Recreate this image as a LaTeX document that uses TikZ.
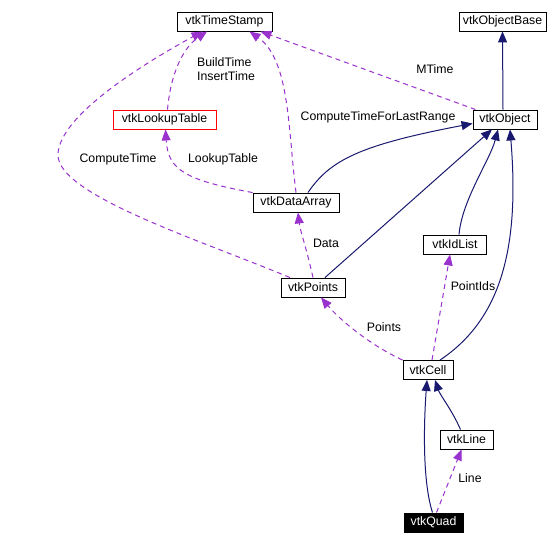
\documentclass[tikz,border=0pt]{standalone}
\usepackage{fontspec}
\setmainfont{Liberation Sans}
\usetikzlibrary{arrows.meta}
\definecolor{navyc}{RGB}{25,25,112}
\definecolor{purp}{RGB}{154,50,205}
\begin{document}
\begin{tikzpicture}[x=1pt,y=-1pt,
 cls/.style={draw=black,line width=0.9pt,minimum height=19pt,inner sep=0pt,font=\fontsize{12.3}{14}\selectfont},
 lbl/.style={inner sep=0pt,font=\fontsize{12.3}{14}\selectfont},
 inh/.style={draw=navyc,line width=1pt,-{Triangle[length=11pt,width=9pt]}},
 use/.style={draw=purp,line width=1pt,dash pattern=on 5pt off 4pt,-{Triangle[length=11pt,width=9pt]}},
]
\fill[white] (0,0) rectangle (552,544);
\useasboundingbox (0,0) rectangle (552,544);
% classes
\node[cls,minimum width=95pt] (ts) at (224.5,21.5) {vtkTimeStamp};
\node[cls,minimum width=87pt] (ob) at (502.5,21.5) {vtkObjectBase};
\node[cls,minimum width=64pt] (obj) at (505,119.5) {vtkObject};
\node[cls,draw=red,minimum width=103pt] (lut) at (164.5,119.5) {vtkLookupTable};
\node[cls,minimum width=86pt] (da) at (296,202.5) {vtkDataArray};
\node[cls,minimum width=64pt] (pts) at (313,287.5) {vtkPoints};
\node[cls,minimum width=63pt] (idl) at (455,244.5) {vtkIdList};
\node[cls,minimum width=50pt] (cell) at (428,370) {vtkCell};
\node[cls,minimum width=53pt] (line) at (466.5,439.5) {vtkLine};
\node[cls,fill=black,text=white,minimum width=59pt] (quad) at (433.5,522.5) {vtkQuad};
% labels
\node[lbl] (lmt) at (435,69) {MTime};
\node[lbl,anchor=west,align=left] (lbt) at (197,69) {BuildTime\\InsertTime};
\node[lbl] (lctl) at (378,117) {ComputeTimeForLastRange};
\node[lbl] (lct) at (118,159) {ComputeTime};
\node[lbl] (llt) at (223,159) {LookupTable};
\node[lbl] (ldata) at (326,243) {Data};
\node[lbl] (lpts) at (384,327) {Points};
\node[lbl] (lpid) at (473,286) {PointIds};
\node[lbl] (lline) at (470,478) {Line};
% inheritance
\draw[inh] ([xshift=-2pt]obj.north) -- (ob.south);
\draw[inh] ([xshift=12pt]da.north) .. controls (330,160) and (360,145) .. ([yshift=-4pt]obj.west);
\draw[inh] ([xshift=12pt]pts.north) -- ([xshift=-13pt]obj.south);
\draw[inh] ([xshift=4pt]idl.north) .. controls (462,200) and (490,160) .. ([xshift=-7pt]obj.south);
\draw[inh] ([xshift=12pt]cell.north) .. controls (500,320) and (520,250) .. ([xshift=5pt]obj.south);
\draw[inh] ([xshift=-6pt]line.north) .. controls (452,410) and (440,395) .. ([xshift=7pt]cell.south);
\draw[inh] ([xshift=-1pt]quad.north) .. controls (422,480) and (424,420) .. ([xshift=-1pt]cell.south);
% usage
\draw[use] ([xshift=3pt]obj.north west) -- ([xshift=-12pt]ts.south east);
\draw[use] ([xshift=3pt]lut.north) .. controls (170,80) and (180,50) .. ([xshift=-17.5pt]ts.south);
\draw[use] ([xshift=-23pt]pts.north) .. controls (200,240) and (58,195) .. (58,155) .. controls (58,115) and (150,60) .. ([xshift=-22pt]ts.south);
\draw[use] (da.north) .. controls (288,130) and (290,60) .. ([xshift=25pt]ts.south);
\draw[use] (da.north west) .. controls (185,180) and (168,170) .. ([xshift=1pt]lut.south);
\draw[use] (pts.north) .. controls (307,250) and (300,230) .. ([xshift=2pt]da.south);
\draw[use] (cell.north west) .. controls (370,345) and (340,320) .. ([xshift=8pt]pts.south);
\draw[use] ([xshift=4pt]cell.north) -- ([xshift=-5pt]idl.south);
\draw[use] ([xshift=3pt]quad.north) -- ([xshift=-5pt]line.south);
\end{tikzpicture}
\end{document}
